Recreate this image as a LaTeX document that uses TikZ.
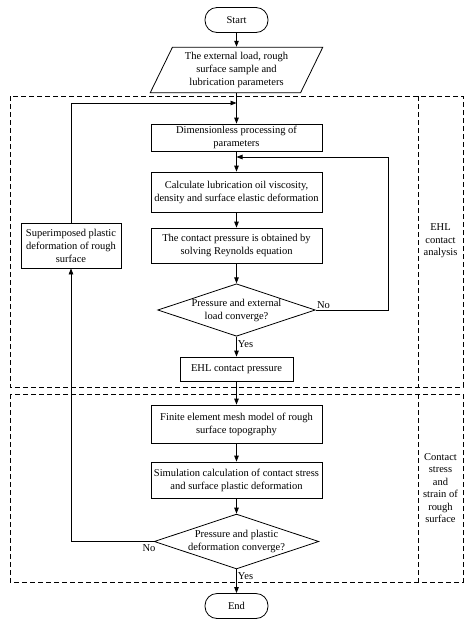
\documentclass[tikz,border=0pt]{standalone}
\usepackage{fontspec}
\setmainfont{Liberation Serif}
\usepackage{tikz}
\usetikzlibrary{positioning,arrows.meta,shapes.geometric,calc}

\begin{document}
\begin{tikzpicture}[
    x=1pt, y=-1pt,
    font=\fontsize{10.5}{13}\selectfont,
    block/.style={draw, thick, minimum width=171pt, align=center, inner sep=2pt},
    term/.style={draw, thick, rounded corners=12pt, minimum width=63pt, minimum height=25pt},
    io/.style={draw, thick, trapezium, trapezium left angle=64, trapezium right angle=116, minimum width=173pt, minimum height=42pt, align=center, inner sep=1pt},
    decision/.style={draw, thick, diamond, aspect=3, inner sep=0pt, minimum width=157pt, minimum height=52pt, align=center},
    zone/.style={draw, thick, dashed, dash pattern=on 5pt off 3pt},
    arrow/.style={-{Triangle[length=6pt,width=4.5pt]}, thick},
    lbl/.style={inner sep=1pt}
]
    \useasboundingbox (0,0) rectangle (474,625);

    % Zones
    \draw[zone] (10,96) rectangle (463,387);
    \draw[zone] (418,96) -- (418,387);
    \draw[zone] (10,394) rectangle (463,582);
    \draw[zone] (418,394) -- (418,582);
    \node[align=center, font=\fontsize{10.5}{12.5}\selectfont] (ehllbl) at (440.5,241) {EHL\\contact\\analysis};
    \node[align=center, font=\fontsize{10.5}{12.5}\selectfont] (fealbl) at (440.5,488) {Contact\\stress\\and\\strain of\\rough\\surface};

    % Start and input
    \node[term] (start) at (236.5,20) {Start};
    \node[io] (input) at (236.5,70) {The external load, rough\\surface sample and\\lubrication parameters};

    % EHL loop
    \node[block, minimum height=27pt] (dimless) at (236.5,137.5) {Dimensionless processing of\\parameters};
    \node[block, minimum height=40pt] (visc) at (236.5,192) {Calculate lubrication oil viscosity,\\density and surface elastic deformation};
    \node[block, minimum height=35pt] (reyn) at (236.5,245.5) {The contact pressure is obtained by\\solving Reynolds equation};
    \node[decision] (conv1) at (236.5,310) {Pressure and external\\load converge?};
    \node[block, minimum width=113pt, minimum height=24pt] (ehlp) at (236.5,369) {EHL contact pressure};

    % Plastic deformation
    \node[block, minimum width=100pt, minimum height=45pt] (superimp) at (71,245.5) {Superimposed plastic\\deformation of rough\\surface};

    % FE loop
    \node[block, minimum height=38pt] (mesh) at (236.5,424) {Finite element mesh model of rough\\surface topography};
    \node[block, minimum height=36pt] (simul) at (236.5,480) {Simulation calculation of contact stress\\and surface plastic deformation};
    \node[decision] (conv2) at (236.5,541.5) {Pressure and plastic\\deformation converge?};
    \node[term] (stop) at (236.5,606) {End};

    % Junctions
    \coordinate (jtop) at (236.5,103);
    \coordinate (jmid) at (236.5,157);
    \coordinate (backR) at (388,157);

    % Arrows
    \draw[arrow] (start) -- (input);
    \draw[arrow] (input) -- (dimless);
    \draw[arrow] (dimless) -- (visc);
    \draw[arrow] (visc) -- (reyn);
    \draw[arrow] (reyn) -- (conv1);
    \draw[arrow] (conv1) -- node[lbl, right, pos=0.35]{Yes} (ehlp);
    \draw[arrow] (conv1.east) -| node[lbl, above right, pos=0]{No} (backR) -- (jmid);
    \draw[arrow] (ehlp) -- (mesh);
    \draw[arrow] (mesh) -- (simul);
    \draw[arrow] (simul) -- (conv2);
    \draw[arrow] (conv2) -- node[lbl, right, pos=0.3]{Yes} (stop);
    \draw[arrow] (conv2.west) -| node[lbl, below left, pos=0, xshift=3pt, yshift=-2pt]{No} (superimp);
    \draw[arrow] (superimp) |- (jtop);
\end{tikzpicture}
\end{document}
